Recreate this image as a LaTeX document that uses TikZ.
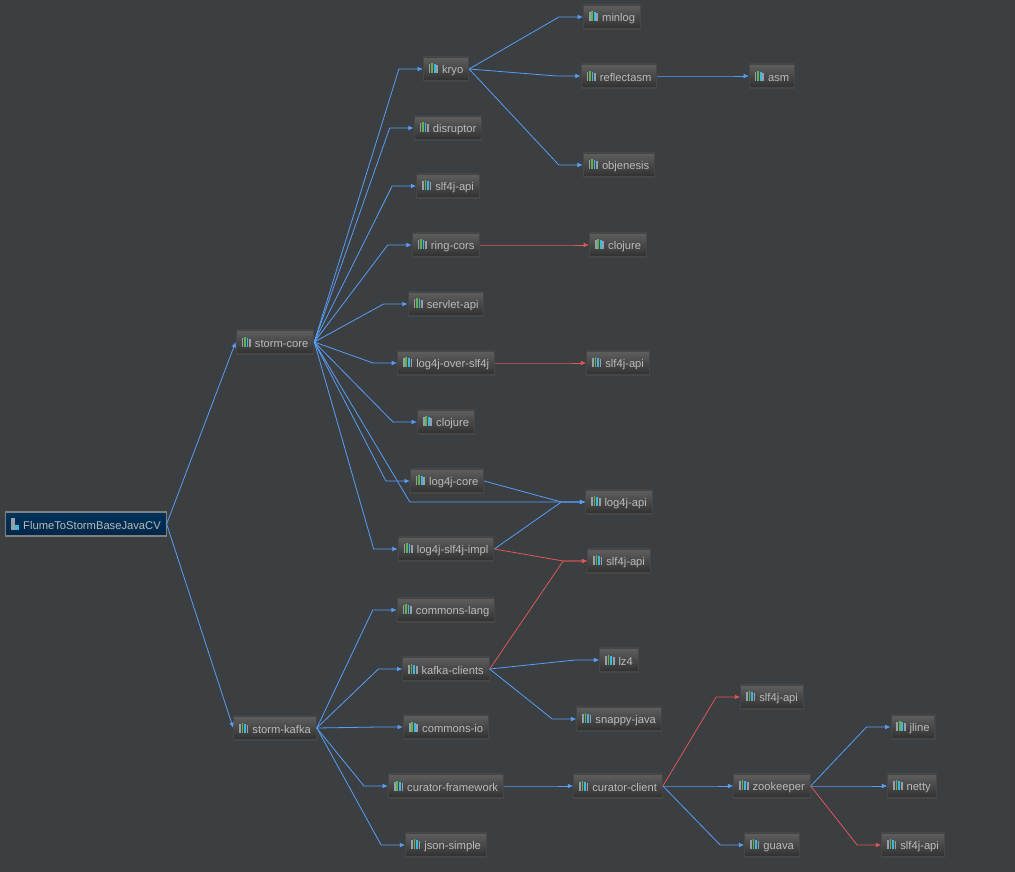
\documentclass[tikz,border=0pt]{standalone}
\usepackage{fontspec}
\setmainfont{Liberation Sans}
\usetikzlibrary{arrows.meta}
\definecolor{IdeaBack}{RGB}{60, 63, 65}
\definecolor{IdeaText}{RGB}{187, 187, 187}
\definecolor{IdeaBlue}{RGB}{88, 157, 246}
\definecolor{IdeaRed}{RGB}{224, 85, 85}
\definecolor{BarGray}{RGB}{150, 160, 170}
\definecolor{BarGreen}{RGB}{98, 177, 80}
\definecolor{BarBlue}{RGB}{64, 182, 224}
\newcommand{\libicon}{{\color{BarGray}\rule{1.3pt}{7pt}}\hspace{0.6pt}{\color{BarGreen}\rule{1.3pt}{8pt}}\hspace{0.6pt}{\color{BarBlue}\rule{1.3pt}{7pt}}\hspace{0.6pt}{\color{BarGray}\rule{1.3pt}{6pt}}\hspace{3pt}}
\tikzset{
  lib/.style={draw=black!45!gray, line width=0.8pt, top color=black!40!gray!90, bottom color=black!62!gray,
    text=IdeaText, minimum height=18pt, inner xsep=4pt, font=\fontsize{8.4}{9}\selectfont},
  dep/.style={IdeaBlue, line width=0.6pt, -{Latex[length=4pt,width=3.5pt]}},
  conflict/.style={dep, IdeaRed}
}
\newcommand{\lnode}[3]{\node[lib] (#1) at (#2) {\libicon #3};}
\newcommand{\edge}[3][dep]{\draw[#1] (#2.east) -- ([xshift=-18pt]#3.west) -- (#3.west);}

\begin{document}
\begin{tikzpicture}[x=0.75pt, y=-0.75pt]
\fill[IdeaBack] (0,0) rectangle (1015,872);
\useasboundingbox (0,0) rectangle (1015,872);

\node[lib, top color=blue!20!black!80!cyan, bottom color=blue!15!black!85!cyan, draw=gray] (root) at (86,524)
  {{\color{BarGray}\rule{2.5pt}{9pt}}\hspace{0.5pt}{\color{BarBlue}\rule{3pt}{4pt}}\hspace{3pt}FlumeToStormBaseJavaCV};

% first level
\lnode{core}{275,342}{storm-core}
\lnode{kafka}{275,728}{storm-kafka}

% storm-core
\lnode{kryo}{446,69}{kryo}
\lnode{disruptor}{448,128}{disruptor}
\lnode{slfa}{448,186}{slf4j-api}
\lnode{ring}{446,245}{ring-cors}
\lnode{servlet}{446,304}{servlet-api}
\lnode{over}{446,363}{log4j-over-slf4j}
\lnode{clja}{446,422}{clojure}
\lnode{lcore}{447,481}{log4j-core}
\lnode{impl}{446,549}{log4j-slf4j-impl}

% storm-kafka
\lnode{lang}{446,610}{commons-lang}
\lnode{clients}{446,669}{kafka-clients}
\lnode{io}{446,727}{commons-io}
\lnode{framework}{446,786}{curator-framework}
\lnode{json}{446,845}{json-simple}

% third level
\lnode{minlog}{612,17}{minlog}
\lnode{reflect}{619,76}{reflectasm}
\lnode{asm}{772,76}{asm}
\lnode{objen}{619,165}{objenesis}
\lnode{cljb}{618,245}{clojure}
\lnode{slfb}{618,363}{slf4j-api}
\lnode{lapi}{619,502}{log4j-api}
\lnode{slfc}{619,561}{slf4j-api}
\lnode{lz}{619,660}{lz4}
\lnode{snappy}{619,719}{snappy-java}
\lnode{client}{618,786}{curator-client}
\lnode{slfd}{772,697}{slf4j-api}
\lnode{zoo}{772,786}{zookeeper}
\lnode{guava}{772,845}{guava}
\lnode{jline}{913,727}{jline}
\lnode{netty}{912,786}{netty}
\lnode{slfe}{913,845}{slf4j-api}

\draw[dep] (root.east) -- (core.west);
\draw[dep] (root.east) -- (kafka.west);

\foreach \t in {kryo,disruptor,slfa,ring,servlet,over,clja,lcore,impl}
  {\edge{core}{\t}}
\draw[dep] (core.east) -- (lcore.west |- lapi.west) -- (lapi.west);
\foreach \t in {lang,clients,io,framework,json}
  {\edge{kafka}{\t}}

\edge{kryo}{minlog}
\edge{kryo}{reflect}
\edge{kryo}{objen}
\edge{reflect}{asm}
\edge[conflict]{ring}{cljb}
\edge[conflict]{over}{slfb}
\edge{lcore}{lapi}
\edge{impl}{lapi}
\edge[conflict]{impl}{slfc}
\edge[conflict]{clients}{slfc}
\edge{clients}{lz}
\edge{clients}{snappy}
\edge{framework}{client}
\edge[conflict]{client}{slfd}
\edge{client}{zoo}
\edge{client}{guava}
\edge{zoo}{jline}
\edge{zoo}{netty}
\edge[conflict]{zoo}{slfe}
\end{tikzpicture}
\end{document}
